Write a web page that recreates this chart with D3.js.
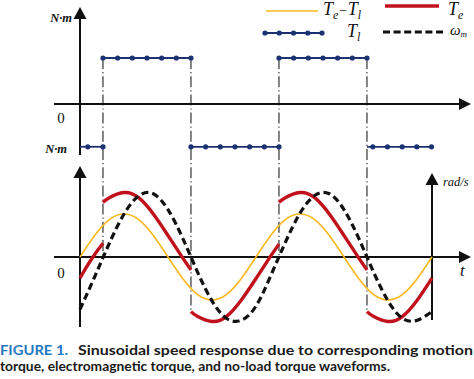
<!DOCTYPE html>
<html><head><meta charset="utf-8">
<script src="https://cdn.jsdelivr.net/npm/d3@7"></script>
<style>body{margin:0;background:#fff}svg{display:block}</style>
</head><body>
<svg id="c" width="474" height="379"></svg>
<script>
// ---- data (angle in electrical degrees) ----
const theta = [0,30,60,90,120,150,180,210,240,270,300,330,360,390,420,450,480,510,540,570,600,630,660,690,720];
const teMinusTl = [0,0.5,0.87,1,0.87,0.5,0,-0.5,-0.87,-1,-0.87,-0.5,0,0.5,0.87,1,0.87,0.5,0,-0.5,-0.87,-1,-0.87,-0.5,0];
const omegaM = [-1.22,-0.46,0.32,1.0,1.42,1.47,1.1,0.44,-0.34,-1.02,-1.43,-1.47,-1.14,-0.44,0.34,1.02,1.43,1.47,1.1,0.44,-0.34,-1.02,-1.43,-1.47,-1.27];
const teSegTheta = [
  [0,15,30,47],
  [47,60,90,120,150,180,210,227],
  [227,240,270,300,330,360,390,407],
  [407,420,450,480,510,540,570,587],
  [587,600,630,660,690,720]
];
const teSegValues = [
  [-0.49,-0.2,0.06,0.32],
  [1.27,1.38,1.5,1.38,1.0,0.5,-0.02,-0.3],
  [-1.27,-1.38,-1.5,-1.38,-1.0,-0.5,0.02,0.3],
  [1.27,1.38,1.5,1.38,1.0,0.5,-0.02,-0.3],
  [-1.27,-1.38,-1.5,-1.38,-1.0,-0.49]
];
const tlTheta = [0,47,227,407,587,720];
const tlLevel = [-0.93,1,-0.93,1,-0.93];
const tlMarkerTheta = [
  [16,47],
  [47,77,107,137,167,197,227],
  [227,257,287,317,347,377,407],
  [407,437,467,497,527,557,587],
  [599,629,659,689,719]
];
const switchTheta = [47,227,407,587];
const switchBottom = [0,-1.27,0,-1.27];

// ---- layout ----
const svg = d3.select("#c");
const x = d3.scaleLinear().domain([0,720]).range([80,432]);
const yTop = d3.scaleLinear().domain([0,1]).range([104,58]);
const yBot = d3.scaleLinear().domain([0,1]).range([257,214]);

const NAVY = "#1b3172", RED = "#c0121c", YEL = "#f6b81a", BLK = "#111";
const serif = "'Liberation Serif','Times New Roman',serif";

// switching dash-dot lines
switchTheta.forEach((t,i)=>{
  svg.append("line").attr("x1",x(t)).attr("x2",x(t))
    .attr("y1",yTop(1)).attr("y2",yBot(switchBottom[i]))
    .attr("stroke","#222").attr("stroke-width",1.1)
    .attr("stroke-dasharray","11,3,1.2,3");
});

// axes helpers
function arrowUp(cx, tip, bottom){
  svg.append("line").attr("x1",cx).attr("x2",cx).attr("y1",bottom).attr("y2",tip+8)
    .attr("stroke","#111").attr("stroke-width",2);
  svg.append("path").attr("d",`M${cx},${tip} L${cx-6.5},${tip+12} L${cx+6.5},${tip+12} Z`).attr("fill","#111");
}
function arrowRight(cy, left, tip){
  svg.append("line").attr("x1",left).attr("x2",tip-8).attr("y1",cy).attr("y2",cy)
    .attr("stroke","#111").attr("stroke-width",2);
  svg.append("path").attr("d",`M${tip},${cy} L${tip-12},${cy-6} L${tip-12},${cy+6} Z`).attr("fill","#111");
}
arrowRight(yTop(0), 54, 471);
arrowUp(x(0), 7, 155);
arrowRight(yBot(0), 54, 471);
arrowUp(x(0), 166, 327);
arrowUp(x(720), 173, 320);

// T_l waveform
const tlLine = d3.line().x(d=>x(d[0])).y(d=>yTop(d[1]));
tlLevel.forEach((lv,i)=>{
  svg.append("path").attr("d",tlLine([[tlTheta[i],lv],[tlTheta[i+1]-(i===4?1:0),lv]]))
    .attr("fill","none").attr("stroke",NAVY).attr("stroke-width",1.8);
  svg.selectAll(null).data(tlMarkerTheta[i]).enter().append("circle")
    .attr("cx",d=>x(d)).attr("cy",yTop(lv)).attr("r",2.6).attr("fill",NAVY);
});

// bottom panel curves
const cLine = d3.line().x(d=>x(d[0])).y(d=>yBot(d[1])).curve(d3.curveNatural);
svg.append("path").attr("d",cLine(theta.map((t,i)=>[t,teMinusTl[i]])))
  .attr("fill","none").attr("stroke",YEL).attr("stroke-width",1.6);
teSegTheta.forEach((ts,i)=>{
  svg.append("path").attr("d",cLine(ts.map((t,j)=>[t,teSegValues[i][j]])))
    .attr("fill","none").attr("stroke",RED).attr("stroke-width",3.4);
});
svg.append("path").attr("d",cLine(theta.map((t,i)=>[t,omegaM[i]])))
  .attr("fill","none").attr("stroke",BLK).attr("stroke-width",3.2)
  .attr("stroke-dasharray","7,4");

// axis labels
function lab(txt,xx,yy,size,anchor,style){
  return svg.append("text").attr("x",xx).attr("y",yy).attr("font-family",serif)
    .attr("font-size",size).attr("font-style",style||"italic").attr("text-anchor",anchor||"start")
    .attr("fill","#111").text(txt);
}
lab("N·m",72,22,12.5,"end").attr("font-weight","bold");
lab("N·m",67,153,12.5,"end").attr("font-weight","bold");
lab("0",61,123,15,"middle","normal");
lab("0",61,278,15,"middle","normal");
lab("rad/s",443,186,12.5,"start");
lab("t",460,276,17,"start");

// legend
svg.append("line").attr("x1",266).attr("x2",318).attr("y1",11).attr("y2",11).attr("stroke",YEL).attr("stroke-width",1.6);
svg.append("line").attr("x1",385).attr("x2",439).attr("y1",6).attr("y2",6).attr("stroke",RED).attr("stroke-width",3.4);
svg.append("line").attr("x1",265).attr("x2",322).attr("y1",33).attr("y2",33).attr("stroke",NAVY).attr("stroke-width",1.8);
[265,279.25,293.5,307.75,322].forEach(cx=>svg.append("circle").attr("cx",cx).attr("cy",33).attr("r",2.6).attr("fill",NAVY));
svg.append("line").attr("x1",383).attr("x2",443).attr("y1",32).attr("y2",32).attr("stroke",BLK).attr("stroke-width",3.2).attr("stroke-dasharray","7,3.6");

function sub(xx,yy,parts){
  const t = svg.append("text").attr("x",xx).attr("y",yy).attr("font-family",serif)
    .attr("font-style","italic").attr("fill","#111");
  parts.forEach(p=>{
    const s = t.append("tspan").attr("font-size",p[1]).text(p[0]);
    if(p[2]) s.attr("dy",p[2]);
  });
  return t;
}
sub(323,15,[["T",18],["e",12,4],["−",14,-4],["T",18],["l",12,4]]);
sub(448,15,[["T",18],["e",12,4]]);
sub(347,37,[["T",18],["l",12,4]]);
sub(450,35,[["ω",15],["m",9,2]]);

// caption
const capFont = "Lato,'Open Sans',sans-serif";
svg.append("text").attr("x",0).attr("y",355).attr("font-family",capFont)
  .attr("font-weight","bold").attr("font-size",13.5).attr("fill","#1f77c0")
  .attr("textLength",68).attr("lengthAdjust","spacingAndGlyphs").text("FIGURE 1.");
svg.append("text").attr("x",78).attr("y",355).attr("font-family",capFont)
  .attr("font-weight","bold").attr("font-size",13.5).attr("fill","#1a1a1a")
  .attr("textLength",395).attr("lengthAdjust","spacingAndGlyphs")
  .text("Sinusoidal speed response due to corresponding motion");
svg.append("text").attr("x",0).attr("y",371).attr("font-family",capFont)
  .attr("font-weight","bold").attr("font-size",13.5).attr("fill","#1a1a1a")
  .attr("textLength",390).attr("lengthAdjust","spacingAndGlyphs")
  .text("torque, electromagnetic torque, and no-load torque waveforms.");
</script>
</body></html>
